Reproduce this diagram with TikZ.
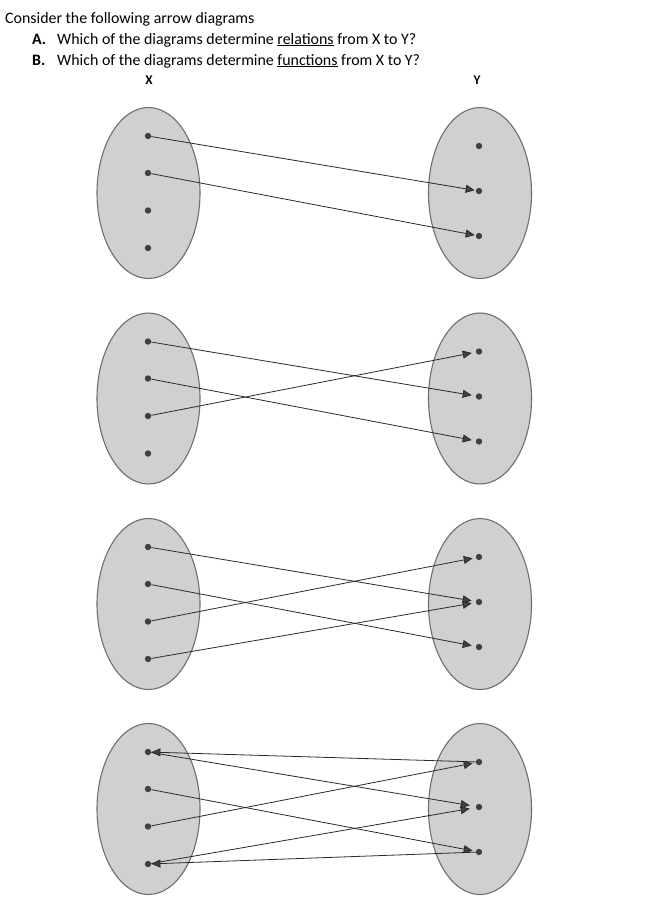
\documentclass[tikz,border=0pt]{standalone}
\usepackage{fontspec}
\setmainfont{Carlito}
\usetikzlibrary{arrows.meta}
\definecolor{setgray}{HTML}{D0D0D0}
\definecolor{rimgray}{HTML}{6E6E6E}
\definecolor{dotgray}{HTML}{404040}
\definecolor{linegray}{HTML}{2A2A2A}
\tikzset{
  setshape/.style={fill=setgray,draw=rimgray,line width=1.1pt},
  elem/.style={circle,fill=dotgray,inner sep=0pt,minimum size=6.4pt},
  maps/.style={draw=linegray,line width=0.8pt,shorten >=4pt,-{Triangle[length=9pt,width=8pt,fill=dotgray]}},
  txt/.style={anchor=base west,inner sep=0pt,font=\fontsize{15.9}{19}\selectfont}
}
\begin{document}
\begin{tikzpicture}[x=1pt,y=-1pt]
  \useasboundingbox (0,0) rectangle (666,922);
  % questions
  \node[txt] (title) at (5,23) {Consider the following arrow diagrams};
  \node[txt,font=\fontsize{15.9}{19}\selectfont\bfseries] (la) at (32,44) {A.};
  \node[txt] (qa) at (57,44) {Which of the diagrams determine \underline{relations} from X to Y?};
  \node[txt,font=\fontsize{15.9}{19}\selectfont\bfseries] (lb) at (32,65) {B.};
  \node[txt] (qb) at (57,65) {Which of the diagrams determine \underline{functions} from X to Y?};
  \node[anchor=base,inner sep=0pt,font=\fontsize{13.3}{16}\selectfont\bfseries] (setx) at (149,84) {X};
  \node[anchor=base,inner sep=0pt,font=\fontsize{13.3}{16}\selectfont\bfseries] (sety) at (477,84) {Y};
  % the two sets of every diagram
  \foreach \d/\cy in {1/193,2/398.5,3/604,4/809}{
    \draw[setshape] (148.5,\cy) ellipse[x radius=51.5,y radius=85.5]; % X
    \draw[setshape] (480,\cy) ellipse[x radius=51.5,y radius=85.5]; % Y
    \node[elem] (x\d-1) at (148,\cy-57) {};
    \node[elem] (x\d-2) at (148,\cy-20) {};
    \node[elem] (x\d-3) at (148,\cy+17.5) {};
    \node[elem] (x\d-4) at (148,\cy+55) {};
    \node[elem] (y\d-1) at (479,\cy-47) {};
    \node[elem] (y\d-2) at (479,\cy-2) {};
    \node[elem] (y\d-3) at (479,\cy+43) {};
  }
  % diagram 1
  \draw[maps,shorten >=1pt] (x1-1) -- (y1-2);
  \draw[maps,shorten >=1pt] (x1-2) -- (y1-3);
  % diagram 2
  \draw[maps] (x2-1) -- (y2-2);
  \draw[maps] (x2-2) -- (y2-3);
  \draw[maps] (x2-3) -- (y2-1);
  % diagram 3
  \draw[maps] (x3-1) -- (y3-2);
  \draw[maps] (x3-2) -- (y3-3);
  \draw[maps,shorten >=3pt] (x3-3) -- (y3-1);
  \draw[maps] (x3-4) -- (y3-2);
  % diagram 4
  \draw[maps,shorten >=6pt] (x4-1) -- (y4-2);
  \draw[maps,shorten >=0pt] (y4-1) -- (x4-1);
  \draw[maps,shorten >=3pt] (x4-2) -- (y4-3);
  \draw[maps,shorten >=3pt] (x4-3) -- (y4-1);
  \draw[maps,shorten >=6pt] (x4-4) -- (y4-2);
  \draw[maps,shorten >=0pt] (y4-3) -- (x4-4);
\end{tikzpicture}
\end{document}
